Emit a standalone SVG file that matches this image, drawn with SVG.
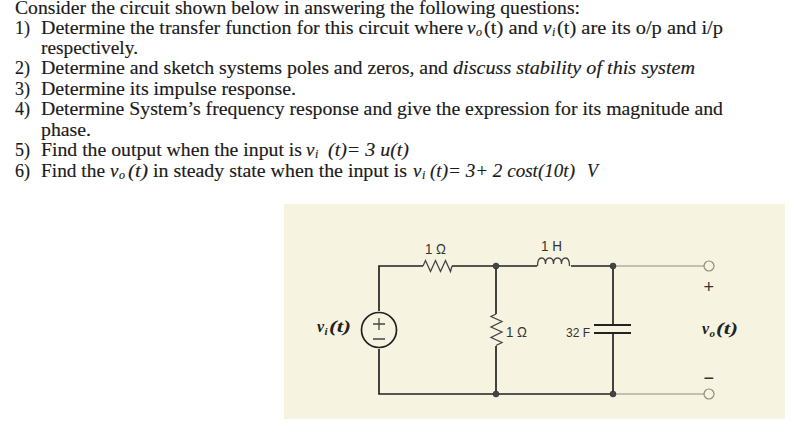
<svg xmlns="http://www.w3.org/2000/svg" width="791" height="439" viewBox="0 0 791 439">
<style>
.q{font-family:"Liberation Serif","DejaVu Serif",serif;font-size:19px;fill:#1a1a1a;stroke:#1a1a1a;stroke-width:.15}
.i{font-style:italic}
.b{font-size:12px}
.w{fill:none;stroke:#222;stroke-width:1.7}
.g{fill:none;stroke:#8d8d80;stroke-width:1.2}
.r{fill:none;stroke:#444;stroke-width:1.3}
.l{font-family:"Liberation Sans",sans-serif;font-size:15px;fill:#333}
.v{font-family:"Liberation Serif",serif;font-size:16px;font-weight:bold;font-style:italic;fill:#222}
.n{fill:#444;stroke:#222;stroke-width:.5}
</style>
<rect width="791" height="439" fill="#fff"/>
<rect x="284" y="204" width="501" height="215" fill="#f6f4e0"/>
<g id="questions">
<text class="q" x="15" y="13.500" textLength="565" lengthAdjust="spacingAndGlyphs">Consider the circuit shown below in answering the following questions:</text>
<text class="q" x="15" y="34" textLength="15" lengthAdjust="spacingAndGlyphs">1)</text>
<text class="q" x="41" y="34" textLength="422" lengthAdjust="spacingAndGlyphs">Determine the transfer function for this circuit where</text>
<text class="q i" x="467" y="34">v</text><text class="q i b" x="476" y="36">o</text>
<text class="q" x="484" y="34" textLength="54" lengthAdjust="spacingAndGlyphs">(t) and</text>
<text class="q i" x="543" y="34">v</text><text class="q i b" x="552" y="36">i</text>
<text class="q" x="557" y="34" textLength="166" lengthAdjust="spacingAndGlyphs">(t) are its o/p and i/p</text>
<text class="q" x="41" y="54" textLength="97" lengthAdjust="spacingAndGlyphs">respectively.</text>
<text class="q" x="15" y="74" textLength="15" lengthAdjust="spacingAndGlyphs">2)</text>
<text class="q" x="41" y="74" textLength="407" lengthAdjust="spacingAndGlyphs">Determine and sketch systems poles and zeros, and</text>
<text class="q i" x="453" y="74" textLength="242" lengthAdjust="spacingAndGlyphs">discuss stability of this system</text>
<text class="q" x="15" y="95" textLength="15" lengthAdjust="spacingAndGlyphs">3)</text>
<text class="q" x="41" y="95" textLength="255" lengthAdjust="spacingAndGlyphs">Determine its impulse response.</text>
<text class="q" x="15" y="115" textLength="15" lengthAdjust="spacingAndGlyphs">4)</text>
<text class="q" x="41" y="115" textLength="682" lengthAdjust="spacingAndGlyphs">Determine System’s frequency response and give the expression for its magnitude and</text>
<text class="q" x="41" y="136" textLength="50" lengthAdjust="spacingAndGlyphs">phase.</text>
<text class="q" x="15" y="156" textLength="15" lengthAdjust="spacingAndGlyphs">5)</text>
<text class="q" x="41" y="156" textLength="261" lengthAdjust="spacingAndGlyphs">Find the output when the input is</text>
<text class="q i" x="306" y="156">v</text><text class="q i b" x="315" y="158">i</text>
<text class="q i" x="328" y="156" textLength="81" lengthAdjust="spacingAndGlyphs">(t)= 3 u(t)</text>
<text class="q" x="15" y="177" textLength="15" lengthAdjust="spacingAndGlyphs">6)</text>
<text class="q" x="41" y="177" textLength="64" lengthAdjust="spacingAndGlyphs">Find the</text>
<text class="q i" x="110" y="177">v</text><text class="q i b" x="119" y="179">o</text>
<text class="q i" x="128" y="177" textLength="20" lengthAdjust="spacingAndGlyphs">(t)</text>
<text class="q" x="153" y="177" textLength="254" lengthAdjust="spacingAndGlyphs">in steady state when the input is</text>
<text class="q i" x="413" y="177">v</text><text class="q i b" x="422" y="179">i</text>
<text class="q i" x="430" y="177" textLength="145" lengthAdjust="spacingAndGlyphs">(t)= 3+ 2 cost(10t)</text>
<text class="q i" x="587" y="177" textLength="11" lengthAdjust="spacingAndGlyphs">V</text>
</g>
<g id="connectors">
<path class="w" d="M379 311V266H423M452 266H537M571 266H613M379 349V394H613M496 266V314M496 346V394M613 266V325M613 333V394"/>
<path class="g" d="M613 266H704M613 394H704"/>
</g>
<g id="source"><circle class="w" cx="379" cy="330" r="17.500"/><path class="r" d="M373 324h12M379 318v12M373 339h12"/><text class="v" x="317" y="332">v</text><text class="v" x="324.500" y="335" style="font-size:11px">i</text><text class="v" x="329" y="332" textLength="22" lengthAdjust="spacingAndGlyphs">(t)</text></g>
<g id="r1"><path class="r" d="M423 266l2.500-5.500 5 11 5-11 5 11 5-11 5 11 1.500-5.500"/><text class="l" x="425" y="254" textLength="21" lengthAdjust="spacingAndGlyphs">1 Ω</text></g>
<g id="r2"><path class="r" d="M496 314l-5 2.500 11 5-11 5.500 11 5-11 5.500 11 5-6 3"/><text class="l" x="506" y="337" textLength="21" lengthAdjust="spacingAndGlyphs">1 Ω</text></g>
<g id="l1"><path class="r" d="M537.500 266c0-4 1-8 4-8s4 3 4 6c0-4 1-6 4-6s4 3 4 6c0-4 1-6 4-6s4 3 4 6c0-4 1-6 4-6s4 4 4 8"/><text class="l" x="541" y="251" textLength="21" lengthAdjust="spacingAndGlyphs">1 H</text></g>
<g id="c1"><path fill="none" stroke="#222" stroke-width="2.200" d="M594 325H631M594 333H631"/><text class="l" x="566" y="337" textLength="24" lengthAdjust="spacingAndGlyphs" style="font-size:13px">32 F</text></g>
<g id="n1"><circle class="n" cx="496" cy="266" r="3"/></g>
<g id="n2"><circle class="n" cx="496" cy="394" r="3"/></g>
<g id="n3"><circle class="n" cx="613" cy="266" r="3"/></g>
<g id="n4"><circle class="n" cx="613" cy="394" r="3"/></g>
<g id="out-plus"><circle cx="709" cy="266" r="5" fill="#f6f4e0" stroke="#8d8d80" stroke-width="1.200"/><text class="l" x="703.500" y="293" style="font-size:18px">+</text></g>
<g id="out-minus"><circle cx="709" cy="394" r="5" fill="#f6f4e0" stroke="#8d8d80" stroke-width="1.200"/><text class="l" x="703.500" y="384" style="font-size:18px">−</text></g>
<g id="vo"><text class="v" x="702" y="334">v</text><text class="v" x="709.500" y="337" style="font-size:11px">o</text><text class="v" x="716" y="334" textLength="22" lengthAdjust="spacingAndGlyphs">(t)</text></g>
</svg>
